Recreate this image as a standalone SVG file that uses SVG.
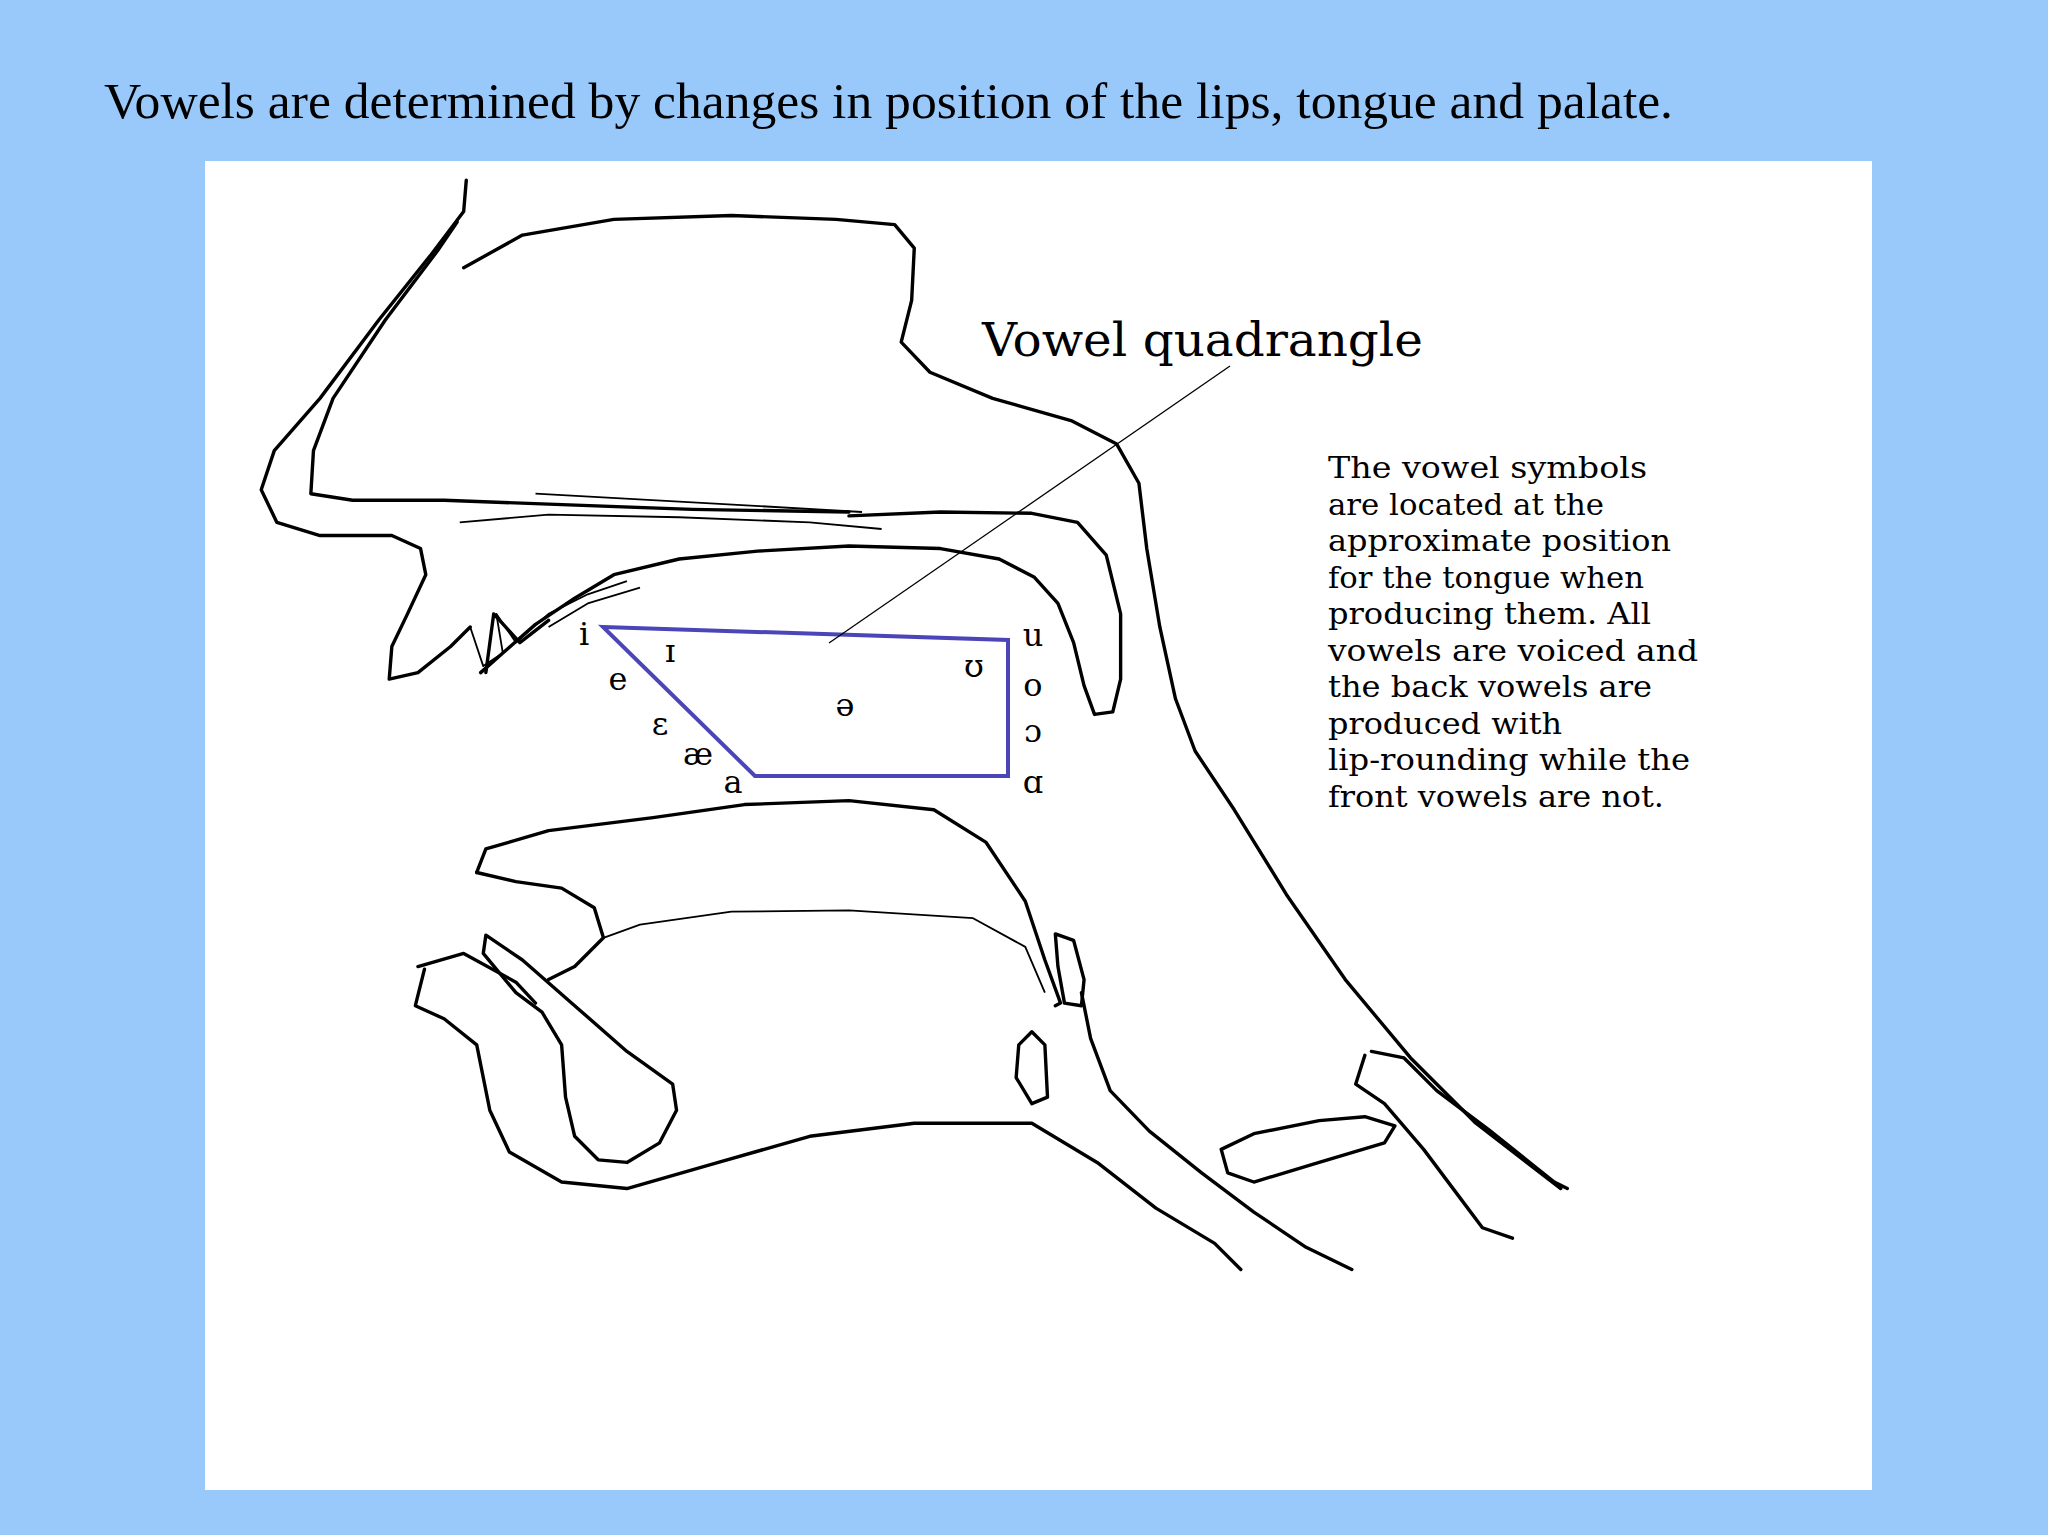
<svg xmlns="http://www.w3.org/2000/svg" width="2048" height="1535" viewBox="0 0 2048 1535">
<style>
.o{fill:none;stroke:#000;stroke-width:2.6;stroke-linejoin:round;stroke-linecap:round}
.t{fill:none;stroke:#000;stroke-width:1.4;stroke-linejoin:round}
.v{font-family:"DejaVu Serif",serif;font-size:32px;fill:#000;text-anchor:middle}
.p{font-family:"DejaVu Serif",serif;font-size:30px;fill:#000}
</style>
<rect width="2048" height="1535" fill="#99c9fa"/>
<text x="104" y="118" font-family="Liberation Serif,serif" font-size="51" fill="#000" textLength="1569" lengthAdjust="spacingAndGlyphs">Vowels are determined by changes in position of the lips, tongue and palate.</text>
<rect x="205" y="161" width="1667" height="1329" fill="#fff"/>
<g id="anatomy" transform="scale(1.3061)">
<path class="o" d="M357,138 L355,162 L330,195 L290,245 L245,305 L210,345 L200,375 L212,400 L245,410 L300,410 L322,420 L326,440 L312,470 L300,495 L298,520 L320,515 L345,495 L360,480"/>
<path class="o" d="M350,170 L335,192 L295,245 L255,305 L240,345 L238,378 L270,383 L340,383 L420,386 L530,390 L650,392"/>
<path class="o" d="M355,205 L400,180 L470,168 L560,165 L640,168 L685,172 L700,190 L698,230 L690,262 L712,285 L760,305 L820,322 L855,340 L872,370 L878,420 L888,480 L900,535 L915,575 L945,620 L985,685 L1030,750 L1080,810 L1130,860 L1195,910"/>
<path class="o" d="M650,395 L720,392 L790,393 L825,400 L847,425 L858,470 L858,520 L852,545 L838,547 L830,525 L822,492 L810,462 L792,442 L765,428 L720,420 L650,418 L580,422 L520,428 L470,440 L440,458 L410,478 L385,500 L368,515"/>
<path class="t" d="M352,400 L420,394 L520,396 L620,400 L675,405 M410,378 L520,384 L660,392 M360,480 L370,510 L385,500 L380,470 L395,492 L420,470 L450,455 L480,445 M420,480 L450,462 L490,450"/>
<path class="o" d="M372,515 L378,470 L398,492 L420,475"/>
<path class="o" d="M365,668 L372,650 L420,636 L500,626 L570,616 L650,613 L715,620 L755,645 L785,690 L800,735 L812,768 L808,770"/>
<path class="o" d="M365,668 L395,675 L430,680 L455,695 L462,718 L440,740 L420,750"/>
<path class="t" d="M462,718 L490,708 L560,698 L650,697 L745,703 L785,725 L800,760"/>
<path class="o" d="M372,716 L400,735 L440,770 L480,805 L515,830 L518,850 L505,875 L480,890 L458,888 L440,870 L433,840 L430,800 L415,775 L395,760 L370,730 Z"/>
<path class="o" d="M320,740 L355,730 L395,752 L410,768 M325,742 L318,770 L340,780 L365,800 L375,850 L390,882 L430,905 L480,910 L550,890 L620,870 L700,860 L790,860 L840,890 L885,925 L930,952 L950,972"/>
<path class="o" d="M808,715 L822,720 L830,750 L828,770 L815,768 L810,740 Z"/>
<path class="o" d="M790,790 L800,800 L802,840 L790,845 L778,825 L780,800 Z"/>
<path class="o" d="M828,760 L835,795 L850,835 L880,866 L920,898 L960,928 L1000,955 L1035,972"/>
<path class="o" d="M1050,805 L1075,810 L1100,835 L1140,865 L1190,905 L1200,910 M1045,808 L1038,830 L1060,845 L1090,880 L1120,920 L1135,940 L1158,948"/>
<path class="o" d="M935,880 L960,868 L1010,858 L1045,855 L1068,862 L1060,875 L1010,890 L960,905 L940,898 Z"/>
</g>
<g id="quadrangle">
<polygon points="603,627 1008,640 1008,776 755,776" fill="none" stroke="#4a46b8" stroke-width="4"/>
</g>
<g id="connectors">
<line x1="829" y1="643" x2="1230" y2="366" stroke="#000" stroke-width="1.3"/>
</g>
<g id="vowels">
<text class="v" x="584" y="645">i</text>
<text class="v" x="670" y="662">ɪ</text>
<text class="v" x="618" y="690">e</text>
<text class="v" x="660" y="735">ɛ</text>
<text class="v" x="698" y="765">æ</text>
<text class="v" x="733" y="793">a</text>
<text class="v" x="845" y="716">ə</text>
<text class="v" x="974" y="677">ʊ</text>
<text class="v" x="1033" y="646">u</text>
<text class="v" x="1033" y="696">o</text>
<text class="v" x="1033" y="742">ɔ</text>
<text class="v" x="1033" y="793">ɑ</text>
</g>
<g id="title2">
<text x="982" y="356" font-family="DejaVu Serif,serif" font-size="46" fill="#000" textLength="441" lengthAdjust="spacingAndGlyphs">Vowel quadrangle</text>
</g>
<g id="note" class="p">
<text x="1328" y="478" textLength="319" lengthAdjust="spacingAndGlyphs">The vowel symbols</text>
<text x="1328" y="515" textLength="276" lengthAdjust="spacingAndGlyphs">are located at the</text>
<text x="1328" y="551" textLength="343" lengthAdjust="spacingAndGlyphs">approximate position</text>
<text x="1328" y="588" textLength="316" lengthAdjust="spacingAndGlyphs">for the tongue when</text>
<text x="1328" y="624" textLength="323" lengthAdjust="spacingAndGlyphs">producing them. All</text>
<text x="1328" y="661" textLength="370" lengthAdjust="spacingAndGlyphs">vowels are voiced and</text>
<text x="1328" y="697" textLength="324" lengthAdjust="spacingAndGlyphs">the back vowels are</text>
<text x="1328" y="734" textLength="234" lengthAdjust="spacingAndGlyphs">produced with</text>
<text x="1328" y="770" textLength="362" lengthAdjust="spacingAndGlyphs">lip-rounding while the</text>
<text x="1328" y="807" textLength="336" lengthAdjust="spacingAndGlyphs">front vowels are not.</text>
</g>
</svg>
